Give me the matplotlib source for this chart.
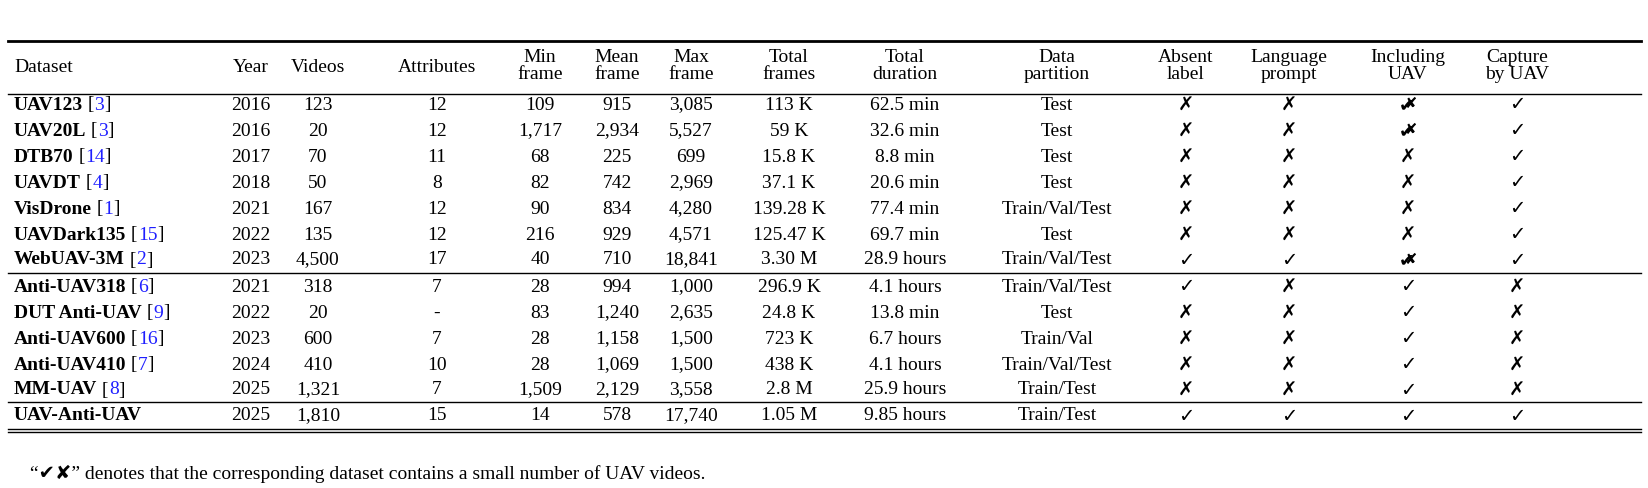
import matplotlib.pyplot as plt

plt.rcParams['font.family'] = ['Liberation Serif', 'DejaVu Sans']

names = ["UAV123", "UAV20L", "DTB70", "UAVDT", "VisDrone", "UAVDark135", "WebUAV-3M",
         "Anti-UAV318", "DUT Anti-UAV", "Anti-UAV600", "Anti-UAV410", "MM-UAV", "UAV-Anti-UAV"]
refs = ["3", "3", "14", "4", "1", "15", "2", "6", "9", "16", "7", "8", None]
years = ["2016", "2016", "2017", "2018", "2021", "2022", "2023", "2021", "2022", "2023", "2024", "2025", "2025"]
videos = ["123", "20", "70", "50", "167", "135", "4,500", "318", "20", "600", "410", "1,321", "1,810"]
attributes = ["12", "12", "11", "8", "12", "12", "17", "7", "-", "7", "10", "7", "15"]
min_frame = ["109", "1,717", "68", "82", "90", "216", "40", "28", "83", "28", "28", "1,509", "14"]
mean_frame = ["915", "2,934", "225", "742", "834", "929", "710", "994", "1,240", "1,158", "1,069", "2,129", "578"]
max_frame = ["3,085", "5,527", "699", "2,969", "4,280", "4,571", "18,841", "1,000", "2,635", "1,500", "1,500", "3,558", "17,740"]
total_frames = ["113 K", "59 K", "15.8 K", "37.1 K", "139.28 K", "125.47 K", "3.30 M", "296.9 K",
                "24.8 K", "723 K", "438 K", "2.8 M", "1.05 M"]
duration = ["62.5 min", "32.6 min", "8.8 min", "20.6 min", "77.4 min", "69.7 min", "28.9 hours",
            "4.1 hours", "13.8 min", "6.7 hours", "4.1 hours", "25.9 hours", "9.85 hours"]
partition = ["Test", "Test", "Test", "Test", "Train/Val/Test", "Test", "Train/Val/Test", "Train/Val/Test",
             "Test", "Train/Val", "Train/Val/Test", "Train/Test", "Train/Test"]
# y = yes, n = no, p = partial (few UAV videos)
absent = "nnnnnnyynnnny"
language = "nnnnnnynnnnny"
including = "ppnnnnpyyyyyy"
capture = "yyyyyyynnnnny"

headers = ["Dataset", "Year", "Videos", "Attributes", "Min\nframe", "Mean\nframe", "Max\nframe",
           "Total\nframes", "Total\nduration", "Data\npartition", "Absent\nlabel", "Language\nprompt",
           "Including\nUAV", "Capture\nby UAV"]
col_x = [14, 251, 318, 437, 540, 617, 691, 789, 905, 1057, 1186, 1289, 1408, 1517]
row_y = [105, 131, 157, 183, 209, 235, 260, 287, 313, 339, 365, 390, 416]

fig = plt.figure(figsize=(16.49, 4.89), dpi=100)
ax = fig.add_axes([0, 0, 1, 1])
ax.set_xlim(0, 1649)
ax.set_ylim(489, 0)
ax.axis('off')

fs = 14
for j, h in enumerate(headers):
    if j == 0:
        ax.text(col_x[j], 68, h, ha='left', va='center', fontsize=fs)
    elif '\n' in h:
        ax.text(col_x[j], 66, h, ha='center', va='center', fontsize=fs, linespacing=1.05)
    else:
        ax.text(col_x[j], 68, h, ha='center', va='center', fontsize=fs)

marks = {'y': '✓', 'n': '✗'}
for i, y in enumerate(row_y):
    t = ax.text(col_x[0], y, names[i], ha='left', va='center', fontsize=fs, fontweight='bold')
    if refs[i]:
        a = ax.annotate(" [", xy=(1, 0), xycoords=t, va='bottom', ha='left', fontsize=fs)
        b = ax.annotate(refs[i], xy=(1, 0), xycoords=a, va='bottom', ha='left', fontsize=fs, color='#1f1fff')
        ax.annotate("]", xy=(1, 0), xycoords=b, va='bottom', ha='left', fontsize=fs)
    vals = [years[i], videos[i], attributes[i], min_frame[i], mean_frame[i], max_frame[i],
            total_frames[i], duration[i], partition[i]]
    for j, v in enumerate(vals):
        ax.text(col_x[j + 1], y, v, ha='center', va='center', fontsize=fs)
    for j, col in enumerate([absent, language, including, capture]):
        x = col_x[10 + j]
        c = col[i]
        if c == 'p':
            ax.text(x - 1, y, '✔', ha='center', va='center', fontsize=fs * 0.95, family='DejaVu Sans')
            ax.text(x + 2, y - 1, '✘', ha='center', va='center', fontsize=fs * 0.75, family='DejaVu Sans')
        else:
            ax.text(x, y, marks[c], ha='center', va='center', fontsize=fs, family='DejaVu Sans')

for y, lw in [(42, 2.0), (95, 1.0), (274, 1.0), (403, 1.0), (430, 1.0), (433, 1.0)]:
    ax.plot([8, 1641], [y, y], color='black', lw=lw)

ax.text(30, 474, '“✔✘” denotes that the corresponding dataset contains a small number of UAV videos.',
        ha='left', va='center', fontsize=fs)

fig.savefig('out.png', dpi=100)
